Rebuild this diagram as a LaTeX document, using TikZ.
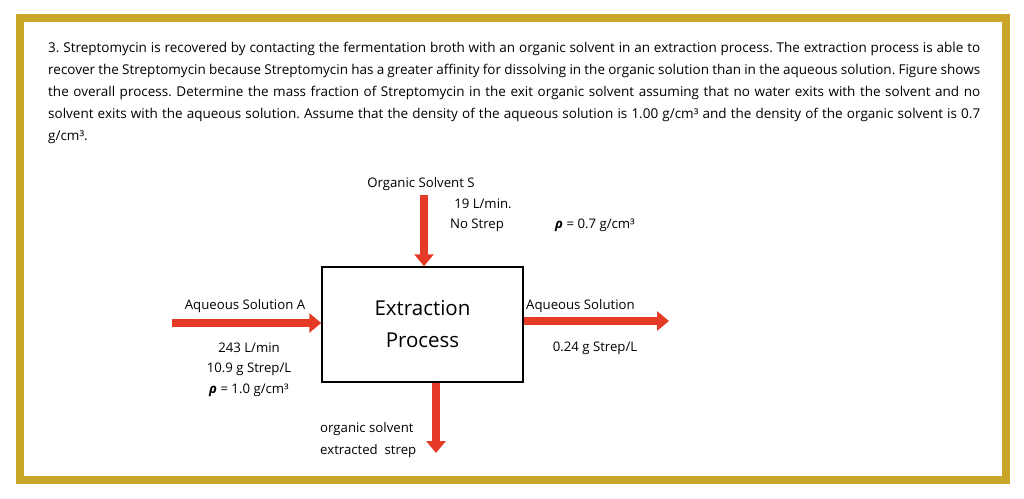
\documentclass[tikz,border=0pt]{standalone}
\usepackage{fontspec}
\setmainfont{Open Sans}
\usetikzlibrary{arrows.meta}
\definecolor{goldframe}{RGB}{201,166,40}
\definecolor{flowred}{RGB}{228,58,38}
\tikzset{
  flow/.style={draw=flowred, line width=7.5pt, -{Triangle[length=12pt,width=19pt]}},
  lbl/.style={font=\fontsize{13.2}{14}\selectfont, inner sep=0pt},
  procbox/.style={draw, line width=1.5pt, minimum width=201pt, minimum height=115pt,
    align=center, font=\fontsize{20.5}{32}\selectfont}
}
\begin{document}
\begin{tikzpicture}[x=1pt,y=-1pt]
\useasboundingbox (0,0) rectangle (1024,498);
% frame
\draw[goldframe, line width=8pt, fill=white] (20,18) rectangle (1006,480);
% problem text
\node[lbl, anchor=north west, text width=932pt, align=justify,
  font=\fontsize{13.5}{22}\selectfont] (task) at (48,42)
  {\frenchspacing\hyphenpenalty=10000 \emergencystretch=20pt
  3. Streptomycin is recovered by contacting the fermentation broth with an organic solvent in an extraction process. The extraction process is able to recover the Streptomycin because Streptomycin has a greater affinity for dissolving in the organic solution than in the aqueous solution. Figure shows the overall process. Determine the mass fraction of Streptomycin in the exit organic solvent assuming that no water exits with the solvent and no solvent exits with the aqueous solution. Assume that the density of the aqueous solution is 1.00 g/cm³ and the density of the organic solvent is 0.7 g/cm³.};
% process
\node[procbox] (proc) at (422.5,324.5) {Extraction\\Process};
% connectors
\coordinate (topin) at (424,195);
\coordinate (leftin) at (172,323);
\coordinate (rightout) at (669,321);
\coordinate (botout) at (436,453);
\draw[flow] (topin) -- (proc.north -| topin);
\draw[flow] (leftin) -- (proc.west |- leftin);
\draw[flow] (proc.east |- rightout) -- (rightout);
\draw[flow] (proc.south -| botout) -- (botout);
% labels
\node[lbl] (solv) at (421,184) {Organic Solvent S};
\node[lbl] (solvrate) at (483,204) {19 L/min.};
\node[lbl] (solvstrep) at (477,225) {No Strep};
\node[lbl] (solvrho) at (595,225) {\textbf{\textit{ρ}} = 0.7 g/cm³};
\node[lbl] (feed) at (245,306) {Aqueous Solution A};
\node[lbl] (feedrate) at (249,348) {243 L/min};
\node[lbl] (feedstrep) at (249,369) {10.9 g Strep/L};
\node[lbl] (feedrho) at (249,390) {\textbf{\textit{ρ}} = 1.0 g/cm³};
\node[lbl, anchor=west] (raff) at (526,306) {Aqueous Solution};
\node[lbl] (raffstrep) at (595,348) {0.24 g Strep/L};
\node[lbl, anchor=west] (extr1) at (320,429) {organic solvent};
\node[lbl, anchor=west] (extr2) at (320,451) {extracted\ \ strep};
\end{tikzpicture}
\end{document}
